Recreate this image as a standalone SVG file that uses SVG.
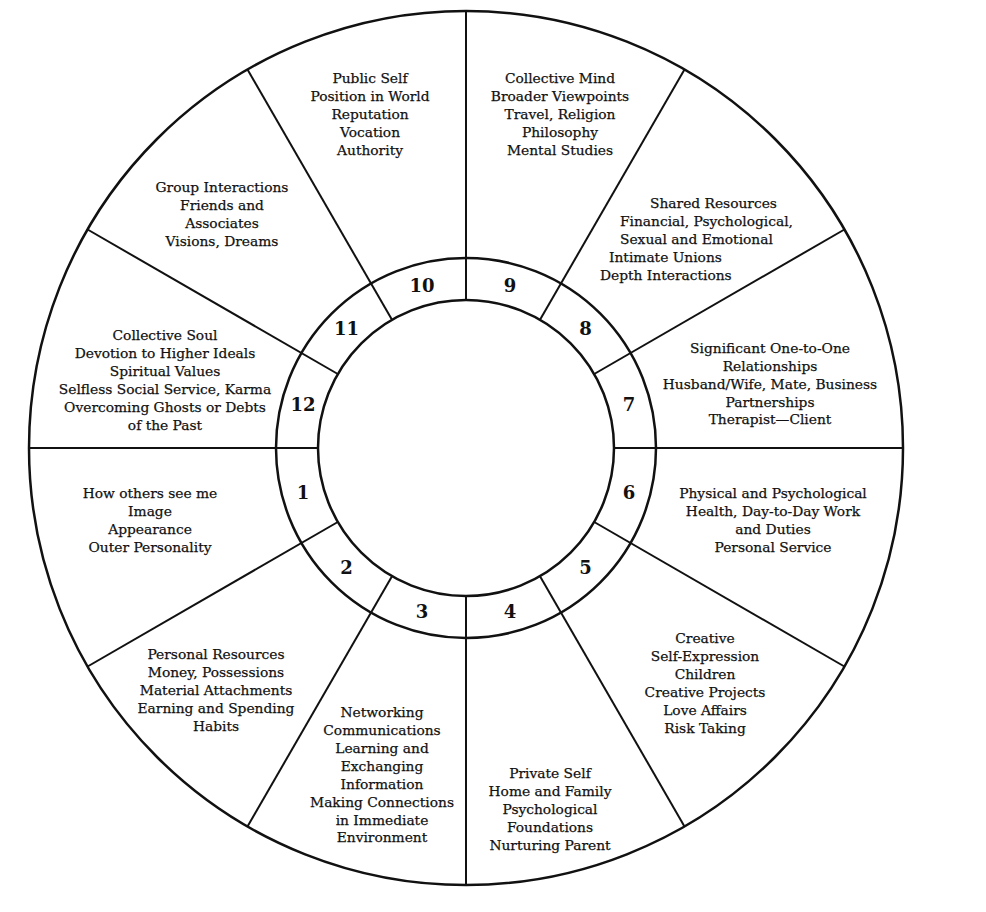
<svg xmlns="http://www.w3.org/2000/svg" width="986" height="912" viewBox="0 0 986 912">
<style>
.c{fill:none;stroke:#111;stroke-width:2.5}
.s{stroke:#111;stroke-width:2}
text{font-family:"DejaVu Serif","Liberation Serif",serif;font-size:13.8px;fill:#111;stroke:#111;stroke-width:0.25;text-anchor:middle}
.n{font-size:18px;font-weight:bold;stroke-width:0;dominant-baseline:central}
.l{text-anchor:start}
</style>
<rect width="986" height="912" fill="#fff"/>
<g id="circles">
<circle class="c" cx="466" cy="448" r="437"/>
<circle class="c" cx="466" cy="448" r="190"/>
<circle class="c" cx="466" cy="448" r="148"/>
</g>
<g id="connectors">
<line class="s" x1="614" y1="448" x2="903" y2="448"/>
<line class="s" x1="594.2" y1="374" x2="844.4" y2="229.5"/>
<line class="s" x1="540" y1="319.8" x2="684.5" y2="69.5"/>
<line class="s" x1="466" y1="300" x2="466" y2="11"/>
<line class="s" x1="392" y1="319.8" x2="247.5" y2="69.5"/>
<line class="s" x1="337.8" y1="374" x2="87.6" y2="229.5"/>
<line class="s" x1="318" y1="448" x2="29" y2="448"/>
<line class="s" x1="337.8" y1="522" x2="87.6" y2="666.5"/>
<line class="s" x1="392" y1="576.2" x2="247.5" y2="826.5"/>
<line class="s" x1="466" y1="596" x2="466" y2="885"/>
<line class="s" x1="540" y1="576.2" x2="684.5" y2="826.5"/>
<line class="s" x1="594.2" y1="522" x2="844.4" y2="666.5"/>
</g>
<g id="house1"><text class="n" x="303" y="492">1</text>
<text x="150" y="498">How others see me</text><text x="150" y="516">Image</text><text x="150" y="534">Appearance</text><text x="150" y="552">Outer Personality</text></g>
<g id="house2"><text class="n" x="346.5" y="567.5">2</text>
<text x="216" y="659">Personal Resources</text><text x="216" y="677">Money, Possessions</text><text x="216" y="695">Material Attachments</text><text x="216" y="713">Earning and Spending</text><text x="216" y="731">Habits</text></g>
<g id="house3"><text class="n" x="422" y="611">3</text>
<text x="382" y="717">Networking</text><text x="382" y="735">Communications</text><text x="382" y="753">Learning and</text><text x="382" y="771">Exchanging</text><text x="382" y="789">Information</text><text x="382" y="807">Making Connections</text><text x="382" y="825">in Immediate</text><text x="382" y="842">Environment</text></g>
<g id="house4"><text class="n" x="510" y="611">4</text>
<text x="550" y="778">Private Self</text><text x="550" y="796">Home and Family</text><text x="550" y="814">Psychological</text><text x="550" y="832">Foundations</text><text x="550" y="850">Nurturing Parent</text></g>
<g id="house5"><text class="n" x="585.5" y="567.5">5</text>
<text x="705" y="643">Creative</text><text x="705" y="661">Self-Expression</text><text x="705" y="679">Children</text><text x="705" y="697">Creative Projects</text><text x="705" y="715">Love Affairs</text><text x="705" y="733">Risk Taking</text></g>
<g id="house6"><text class="n" x="629" y="492">6</text>
<text x="773" y="498">Physical and Psychological</text><text x="773" y="516">Health, Day-to-Day Work</text><text x="773" y="534">and Duties</text><text x="773" y="552">Personal Service</text></g>
<g id="house7"><text class="n" x="629" y="404">7</text>
<text x="770" y="353">Significant One-to-One</text><text x="770" y="371">Relationships</text><text x="770" y="389">Husband/Wife, Mate, Business</text><text x="770" y="407">Partnerships</text><text x="770" y="424">Therapist—Client</text></g>
<g id="house8"><text class="n" x="585.5" y="328.5">8</text>
<text class="l" x="650" y="208">Shared Resources</text><text class="l" x="620" y="226">Financial, Psychological,</text><text class="l" x="620" y="244">Sexual and Emotional</text><text class="l" x="609" y="262">Intimate Unions</text><text class="l" x="600" y="280">Depth Interactions</text></g>
<g id="house9"><text class="n" x="510" y="285">9</text>
<text x="560" y="83">Collective Mind</text><text x="560" y="101">Broader Viewpoints</text><text x="560" y="119">Travel, Religion</text><text x="560" y="137">Philosophy</text><text x="560" y="155">Mental Studies</text></g>
<g id="house10"><text class="n" x="422" y="285">10</text>
<text x="370" y="83">Public Self</text><text x="370" y="101">Position in World</text><text x="370" y="119">Reputation</text><text x="370" y="137">Vocation</text><text x="370" y="155">Authority</text></g>
<g id="house11"><text class="n" x="346.5" y="328.5">11</text>
<text x="222" y="192">Group Interactions</text><text x="222" y="210">Friends and</text><text x="222" y="228">Associates</text><text x="222" y="246">Visions, Dreams</text></g>
<g id="house12"><text class="n" x="303" y="404">12</text>
<text x="165" y="340">Collective Soul</text><text x="165" y="358">Devotion to Higher Ideals</text><text x="165" y="376">Spiritual Values</text><text x="165" y="394">Selfless Social Service, Karma</text><text x="165" y="412">Overcoming Ghosts or Debts</text><text x="165" y="430">of the Past</text></g>
</svg>
